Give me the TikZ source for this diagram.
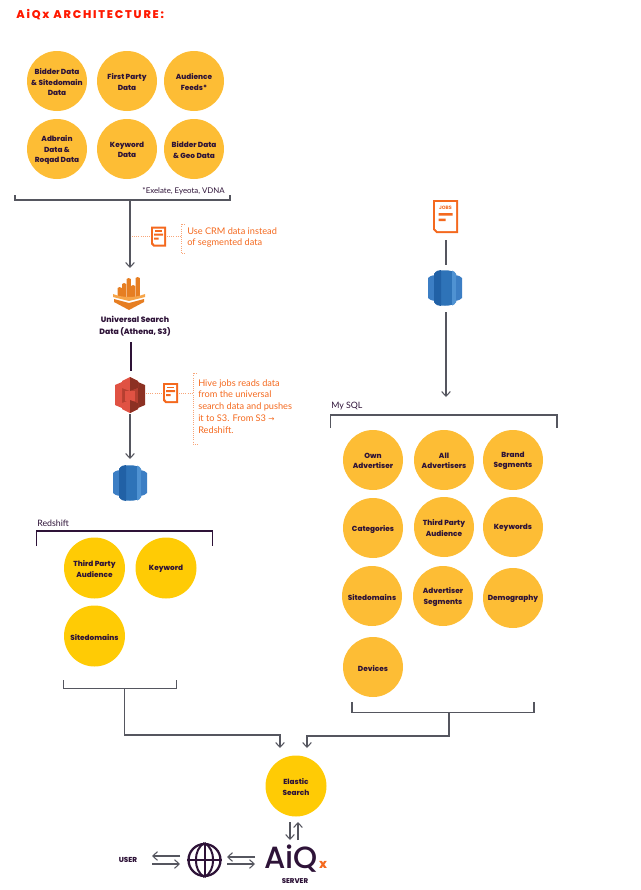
\documentclass[tikz,border=0pt]{standalone}
\usepackage{fontspec}
\setmainfont{Poppins}
\newfontfamily\lightf{Lato}
\newfontfamily\heavyf{Poppins ExtraBold}
\newfontfamily\logof{Poppins Medium}
\newfontfamily\titlef[LetterSpace=16]{Poppins ExtraBold}
\newfontfamily\arrowf{DejaVu Sans}
\usetikzlibrary{arrows.meta,calc}
\definecolor{amber}{HTML}{FDBD35}
\definecolor{gold}{HTML}{FFCB05}
\definecolor{ink}{HTML}{2E1338}
\definecolor{wire}{HTML}{55565F}
\definecolor{orng}{HTML}{F4691E}
\definecolor{rs1}{HTML}{2E73B8}
\definecolor{rs2}{HTML}{2161A6}
\definecolor{rs3}{HTML}{4F92D2}
\definecolor{rs4}{HTML}{3C7EC4}
\definecolor{s3a}{HTML}{E05243}
\definecolor{s3b}{HTML}{8C3123}
\definecolor{s3c}{HTML}{B53F30}
\definecolor{ath1}{HTML}{E67E22}
\definecolor{ath2}{HTML}{F6A54A}
\tikzset{
  x=0.75pt,y=-0.75pt,
  bubble/.style={circle,inner sep=0pt,minimum size=45pt,yshift=-0.8pt,
    preaction={fill=amber,transform canvas={yshift=0.8pt}},
    text=ink,align=center,font=\heavyf\fontsize{5.5}{7.7}\selectfont},
  goldbubble/.style={circle,inner sep=0pt,minimum size=45.75pt,yshift=-0.8pt,
    preaction={fill=gold,transform canvas={yshift=0.8pt}},
    text=ink,align=center,font=\heavyf\fontsize{5.5}{7.7}\selectfont},
  wireline/.style={draw=wire,line width=0.8pt},
  arrowline/.style={wireline,-{Straight Barb[length=3.5pt,width=6.5pt,line width=0.8pt]}},
  note/.style={anchor=north west,inner sep=0pt,text=orng,align=left,font=\lightf\fontsize{6.9}{8.9}\selectfont},
  dots/.style={draw=orng!60,line width=0.6pt,densely dotted},
  plain/.style={inner sep=0pt,text=ink},
  docicon/.pic={
    \path[fill=orng] (-7.5,-10)--(7.5,-10)--(7.5,10)--(-5,10)--(-7.5,7.5)--cycle;
    \path[fill=white] (-5.5,-8)--(5.5,-8)--(5.5,8)--(-4,8)--(-5.5,6)--cycle;
    \path[fill=orng] (-4.5,-3) rectangle (4.5,-1) (-4.5,1.2) rectangle (0,3);
    \path[fill=orng] (-3.5,-6.5) rectangle (3.5,-5);
  },
  bigdoc/.pic={
    \path[fill=orng] (-12.5,-16.5)--(12.5,-16.5)--(12.5,16.5)--(-9,16.5)--(-12.5,13)--cycle;
    \path[fill=white] (-10.5,-14.5)--(10.5,-14.5)--(10.5,14.5)--(-8,14.5)--(-10.5,12)--cycle;
    \path[fill=orng] (-7,-3.5) rectangle (7,-1) (-7,2) rectangle (0,4.5);
    \node[text=orng,inner sep=0pt,font=\bfseries\fontsize{3.6}{4}\selectfont] at (0,-8.5) {JOBS};
  },
  redshift/.pic={
    \path[fill=rs4] (-17,-10) .. controls (-14,-13) and (-10,-13) .. (-7,-13) -- (-7,13) .. controls (-10,13) and (-14,13) .. (-17,10) -- cycle;
    \path[fill=rs4] (17,-10) .. controls (14,-13) and (10,-13) .. (7,-13) -- (7,13) .. controls (10,13) and (14,13) .. (17,10) -- cycle;
    \path[fill=rs1] (-11,-14) .. controls (-8,-19) and (8,-19) .. (11,-14) -- (11,14) .. controls (8,19) and (-8,19) .. (-11,14) -- cycle;
    \path[fill=rs2] (-11,-14) .. controls (-9,-17) and (-7,-18) .. (-4,-18) -- (-4,18) .. controls (-7,18) and (-9,17) .. (-11,14) -- cycle;
    \path[fill=rs3] (11,-14) .. controls (10,-16) and (9,-17) .. (7,-17.5) -- (7,17.5) .. controls (9,17) and (10,16) .. (11,14) -- cycle;
  },
  athena/.pic={
    \foreach \xa/\topy in {-11.5/-6,-7/-10,-2.5/-15,2/-8,6.5/-16}{
      \path[fill=ath1] (\xa,3) -- (\xa,\topy) -- (\xa+2,\topy-1) -- (\xa+4.3,\topy) -- (\xa+4.3,3) -- cycle;
    }
    \path[fill=ath2] (-16,0) .. controls (-6,4) and (6,4) .. (16,0) -- (16,3) -- (0,7) -- (-16,3) -- cycle;
    \path[fill=ath1] (-15,5) -- (0,9) -- (15,5) -- (15,8) -- (0,16) -- (-15,8) -- cycle;
  },
  stor/.pic={
    \path[fill=s3c] (-8,-12) rectangle (8,12);
    \path[fill=s3a] (-15,-10) -- (-8,-13) -- (-8,13) -- (-15,10) -- cycle;
    \path[fill=s3b] (15,-10) -- (8,-13) -- (8,13) -- (15,10) -- cycle;
    \path[fill=s3a] (0,-18) -- (8,-14) -- (8,-7) -- (0,-4) -- (-8,-7) -- (-8,-14) -- cycle;
    \path[fill=s3b] (0,-18) -- (8,-14) -- (8,-7) -- (0,-4) -- cycle;
    \path[fill=s3a] (-5,-4) rectangle (5,6);
    \path[fill=s3a] (0,5) -- (8,8) -- (8,14) -- (0,18) -- (-8,14) -- (-8,8) -- cycle;
    \path[fill=s3b] (0,5) -- (8,8) -- (8,14) -- (0,18) -- cycle;
  }
}
\begin{document}
\begin{tikzpicture}
\useasboundingbox (0,0) rectangle (640,890);
\node[anchor=west,inner sep=0pt,text=red!80!orange,font=\titlef\fontsize{8.4}{10}\selectfont] (title) at (16,15) {AiQx ARCHITECTURE:};

% top group
\node[bubble] (a1) at (57,81) {Bidder Data\\\& Sitedomain\\Data};
\node[bubble] (a2) at (127,81) {First Party\\Data};
\node[bubble] (a3) at (194,81) {Audience\\Feeds*};
\node[bubble] (a4) at (57,149) {Adbrain\\Data \&\\Roqad Data};
\node[bubble] (a5) at (127,149) {Keyword\\Data};
\node[bubble] (a6) at (194,149) {Bidder Data\\\& Geo Data};
\node[plain,anchor=east,font=\lightf\fontsize{5.9}{7}\selectfont] (fn) at (225,191) {*Exelate, Eyeota, VDNA};
\coordinate (b1) at (15,200); \coordinate (b2) at (230,200); \coordinate (b0) at (130,200);
\draw[wireline] ($(b1)+(0,-5)$) -- (b1) -- (b2) -- ($(b2)+(0,-5)$);

% Athena
\pic at (129,294) {athena};
\coordinate (ath) at (130,268);
\draw[arrowline] (b0) -- (ath);
\node[plain,align=center,font=\heavyf\fontsize{5.8}{9}\selectfont] (usd) at (135,326.5) {Universal Search\\Data (Athena, S3)};

% CRM note
\pic at (158.5,236.5) {docicon};
\coordinate (d1a) at (132,236); \coordinate (d1b) at (150,236);
\coordinate (d1c) at (167,236); \coordinate (d1d) at (180,236);
\draw[dots] (d1a) -- (d1b) (d1c) -- (d1d);
\draw[dots] (185,224) -- (181,224) -- (181,253) -- (185,253);
\node[note] (crm) at (187,227) {Use CRM data instead\\of segmented data};

% S3
\pic at (130,395) {stor};
\coordinate (s3top) at (131,342); \coordinate (s3in) at (131,371);
\coordinate (s3out) at (130,414); \coordinate (rsa) at (130,459);
\draw[draw=ink,line width=0.8pt] (s3top) -- (s3in);
\draw[arrowline] (s3out) -- (rsa);
\pic at (130,483) {redshift};

% Hive note
\pic at (170.5,393) {docicon};
\coordinate (d2a) at (146,393); \coordinate (d2b) at (163,393);
\coordinate (d2c) at (179,393); \coordinate (d2d) at (192,393);
\draw[dots] (d2a) -- (d2b) (d2c) -- (d2d);
\draw[dots] (197,373) -- (193,373) -- (193,444) -- (197,444);
\node[note] (hive) at (198,379) {Hive jobs reads data\\from the universal\\search data and pushes\\it to S3. From S3 {\arrowf\fontsize{5.5}{8}\selectfont→}\\Redshift.};

% Redshift group
\node[plain,anchor=west,font=\lightf\fontsize{6.6}{8}\selectfont] (rslabel) at (37,523) {Redshift};
\draw[draw=ink,line width=0.8pt] (36.5,546) -- (36.5,531) -- (212.5,531) -- (212.5,546);
\node[goldbubble] (g1) at (94.5,568) {Third Party\\Audience};
\node[goldbubble] (g2) at (166,568) {Keyword};
\node[goldbubble] (g3) at (94.5,636) {Sitedomains};
\coordinate (c1) at (63.5,680); \coordinate (c2) at (176.5,680); \coordinate (c0) at (124.5,688.5);
\draw[wireline] (c1) |- (c0) -| (c2);

% right column
\pic at (445.5,216.5) {bigdoc};
\coordinate (j1) at (446,240); \coordinate (j2) at (446,265);
\draw[wireline] (j1) -- (j2);
\pic at (445,288) {redshift};
\coordinate (j3) at (446,312); \coordinate (j4) at (446,397);
\draw[arrowline] (j3) -- (j4);
\node[plain,anchor=west,font=\lightf\fontsize{6.6}{8}\selectfont] (mysql) at (331,406) {My SQL};
\draw[wireline] (330.5,428) -- (330.5,415) -- (557,415) -- (557,428);

\node[bubble] (m1) at (373,460) {Own\\Advertiser};
\node[bubble] (m2) at (444,460) {All\\Advertisers};
\node[bubble] (m3) at (513,460) {Brand\\Segments};
\node[bubble] (m4) at (373,528) {Categories};
\node[bubble] (m5) at (444,527) {Third Party\\Audience};
\node[bubble] (m6) at (513,527) {Keywords};
\node[bubble] (m7) at (372,596) {Sitedomains};
\node[bubble] (m8) at (443,596) {Advertiser\\Segments};
\node[bubble] (m9) at (513,598) {Demography};
\node[bubble] (m10) at (373,667) {Devices};
\coordinate (e1) at (352,702); \coordinate (e2) at (534,702); \coordinate (e0) at (449,712.5);
\draw[wireline] (e1) |- (e0) -| (e2);

% elastic
\node[goldbubble] (es) at (296,786) {Elastic\\Search};
\coordinate (f1) at (280,748); \coordinate (f2) at (307,748);
\draw[arrowline] (c0) |- (124.5,735) -| (f1);
\draw[arrowline] (e0) |- (449,736) -| (f2);

% bottom row
\node[plain,font=\heavyf\fontsize{5.4}{7}\selectfont] (user) at (128,860) {USER};
\node[circle,draw=ink,line width=1.7pt,minimum size=24pt,inner sep=0pt] (globe) at (204.5,860) {};
\draw[draw=ink,line width=1.5pt] (globe.north) -- (globe.south) (globe.west) -- (globe.east);
\draw[draw=ink,line width=1.5pt] (globe.north) .. controls (193,849) and (193,871) .. (globe.south);
\draw[draw=ink,line width=1.5pt] (globe.north) .. controls (216,849) and (216,871) .. (globe.south);
\node[plain,font=\logof\fontsize{23}{23}\selectfont] (aiq) at (291,859) {AiQ};
\node[plain,text=orng,font=\heavyf\fontsize{9.5}{9.5}\selectfont] (xmark) at (323,865) {x};
\node[plain,font=\heavyf\fontsize{5.2}{7}\selectfont] (server) at (295,881) {SERVER};
\coordinate (h1) at (290,822); \coordinate (h2) at (290,840);
\coordinate (h3) at (298,840); \coordinate (h4) at (298,822);
\draw[arrowline] (h1) -- (h2);
\draw[arrowline] (h3) -- (h4);
\coordinate (u1) at (180,856); \coordinate (u2) at (152,856);
\coordinate (u3) at (152,864); \coordinate (u4) at (180,864);
\draw[arrowline] (u1) -- (u2);
\draw[arrowline] (u3) -- (u4);
\coordinate (v1) at (255,857); \coordinate (v2) at (227,857);
\coordinate (v3) at (227,864); \coordinate (v4) at (255,864);
\draw[arrowline] (v1) -- (v2);
\draw[arrowline] (v3) -- (v4);
\end{tikzpicture}
\end{document}
